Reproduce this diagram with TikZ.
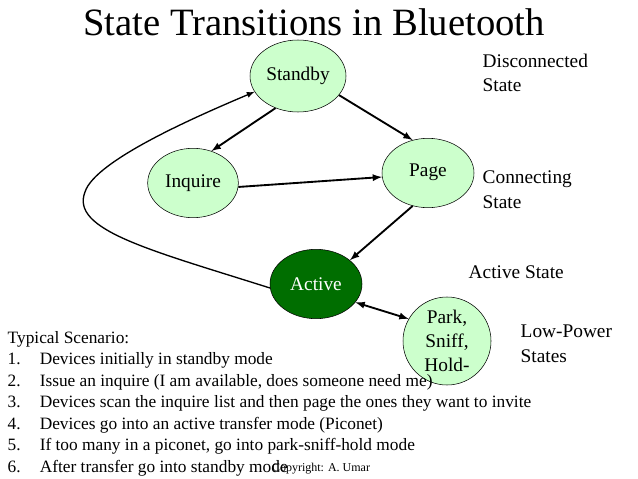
\documentclass[tikz,border=0pt]{standalone}
\usepackage{fontspec}
\setmainfont{Liberation Serif}
\usetikzlibrary{shapes.geometric}
\definecolor{lightgreen}{RGB}{204,255,204}
\definecolor{darkgreen}{RGB}{0,110,0}
\begin{document}
\begin{tikzpicture}[x=0.75pt,y=-0.75pt,
    state/.style={ellipse,draw,fill=lightgreen,inner sep=0pt,font=\fontsize{14.5}{16}\selectfont},
    trans/.style={-latex,line width=1.4pt},
    label/.style={anchor=west,align=left,font=\fontsize{14.5}{18.5}\selectfont},
    scen/.style={anchor=west,font=\fontsize{13}{14}\selectfont}]
                \useasboundingbox (0,0) rectangle (638,478);
                \node[font=\fontsize{29}{31}\selectfont] (title) at (314,22) {State Transitions in Bluetooth};
                % states
                \node[state,minimum width=72pt,minimum height=54pt] (standby) at (298,76) {Standby};
                \node[state,minimum width=68pt,minimum height=52pt] (inquire) at (193,183) {Inquire};
                \node[state,minimum width=69pt,minimum height=52pt] (page) at (428,173) {\raisebox{4pt}{Page}};
                \node[state,fill=darkgreen,text=white,minimum width=69pt,minimum height=52pt] (active) at (316,284) {Active};
                \node[state,align=center,minimum width=66pt,minimum height=66pt,font=\fontsize{14.5}{18}\selectfont] (park) at (447,341) {Park,\\Sniff,\\Hold-};
                % transitions
                \draw[trans] (standby.235) -- (inquire.60);
                \draw[trans] (standby.-25) -- (page.115);
                \draw[trans] (inquire.-5) -- (page.185);
                \draw[trans] (page.-115) -- (active.35);
                \draw[trans,latex-latex] (active.-25) -- (park.150);
                \draw[line width=1pt,-latex] (active.185) .. controls (150,250) and (70,230) .. (85,192)
                    .. controls (95,160) and (200,115) .. (standby.200);
                % side labels
                \node[label] (disc) at (478,73) {Disconnected\\State};
                \node[label] (conn) at (478,190) {Connecting\\State};
                \node[label] (actl) at (464,272) {Active State};
                \node[label] (lowp) at (516,344) {Low-Power\\States};
                % scenario
                \node[scen] (s0) at (3,339) {Typical Scenario:};
                \foreach \i/\t in {1/Devices initially in standby mode,
                    2/{Issue an inquire (I am available, does someone need me)},
                    3/Devices scan the inquire list and then page the ones they want to invite,
                    4/Devices go into an active transfer mode (Piconet),
                    5/{If too many in a piconet, go into park-sniff-hold mode},
                    6/After transfer go into standby mode}
                \node[scen] (s\i) at (3,339+21.5*\i) {\i.\hspace{1.1em}\t};
                \node[font=\fontsize{9}{10}\selectfont] (copy) at (321,469) {Copyright: A. Umar};
            \end{tikzpicture}
\end{document}
